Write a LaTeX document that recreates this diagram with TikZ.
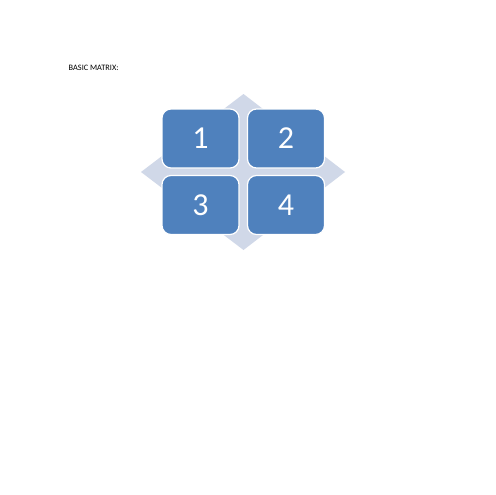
\documentclass[tikz,border=0pt]{standalone}
\usepackage{fontspec}
\setmainfont{Carlito}
\definecolor{boxblue}{RGB}{79,129,189}
\definecolor{diamondgrey}{RGB}{208,216,232}
\begin{document}
\begin{tikzpicture}[x=1pt,y=-1pt,
  cell/.style={draw=white,line width=1.2pt,fill=boxblue,rounded corners=9pt,
    minimum width=77pt,minimum height=59pt,inner sep=0pt,text=white,
    font=\fontsize{32}{32}\selectfont},
  title/.style={anchor=west,inner sep=0pt,font=\fontsize{8.3}{9}\selectfont}]
\useasboundingbox (0,0) rectangle (495,495);
\fill[white] (0,0) rectangle (495,495);
\node[title] (t) at (68.5,67.5) {BASIC MATRIX:};
\fill[diamondgrey] (243.5,94) -- (345,172) -- (243.5,250) -- (141,172) -- cycle;
\node[cell] (c1) at (200.5,138.5) {1};
\node[cell] (c2) at (286,138.5) {2};
\node[cell] (c3) at (200.5,205) {3};
\node[cell] (c4) at (286,205) {4};
\end{tikzpicture}
\end{document}
